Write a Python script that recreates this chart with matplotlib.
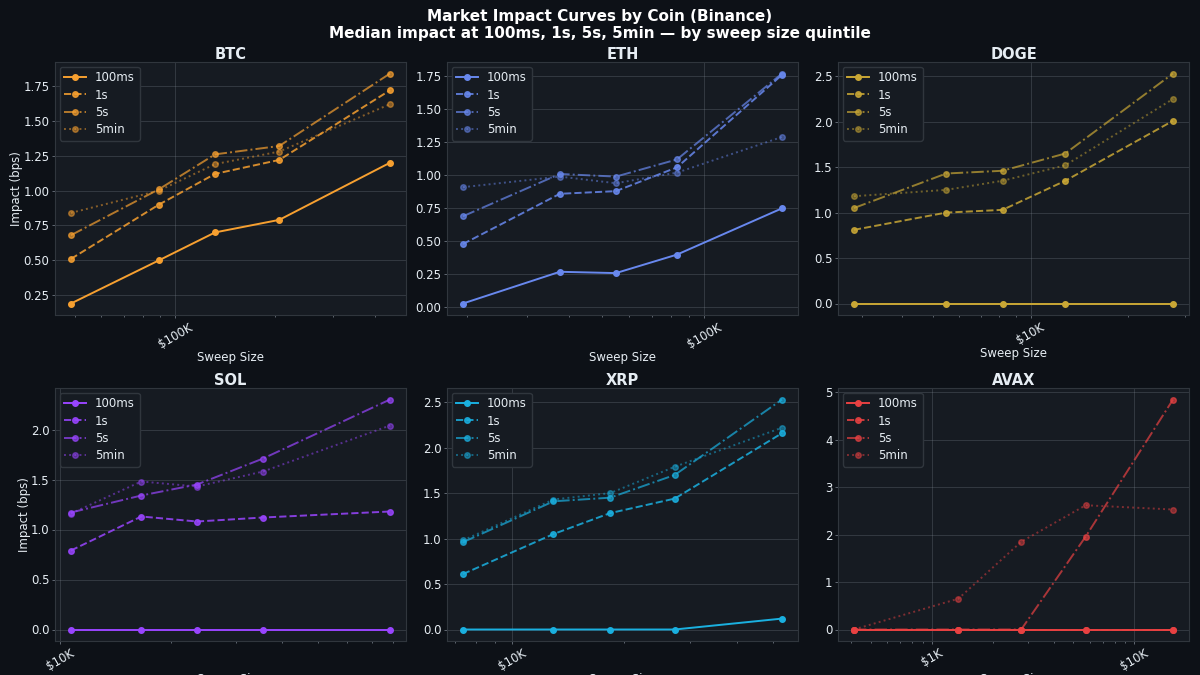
import numpy as np
import matplotlib.pyplot as plt
from matplotlib.ticker import FuncFormatter, LogLocator, NullFormatter

# sweep size quintile midpoints (USD) per coin
coins = ['BTC', 'ETH', 'DOGE', 'SOL', 'XRP', 'AVAX']
colors = ['#f7a030', '#6888ee', '#c9a735', '#9945ff', '#1ab0e0', '#e84142']
horizons = ['100ms', '1s', '5s', '5min']

sizes = {
    'BTC':  [48600, 89500, 132000, 206000, 444000],
    'ETH':  [19400, 37500, 54900, 83200, 170000],
    'DOGE': [2840, 5480, 8190, 12800, 27600],
    'SOL':  [10700, 16600, 23500, 35500, 78400],
    'XRP':  [7370, 12900, 18300, 27300, 53000],
    'AVAX': [413, 1353, 2762, 5745, 15500],
}

# median impact in bps: rows = 100ms, 1s, 5s, 5min
impact = {
    'BTC': [[0.19, 0.50, 0.70, 0.79, 1.20],
            [0.51, 0.90, 1.12, 1.22, 1.72],
            [0.68, 1.01, 1.26, 1.32, 1.84],
            [0.84, 1.00, 1.19, 1.28, 1.62]],
    'ETH': [[0.03, 0.27, 0.26, 0.40, 0.75],
            [0.48, 0.86, 0.88, 1.06, 1.76],
            [0.69, 1.01, 0.99, 1.12, 1.77],
            [0.91, 0.99, 0.94, 1.02, 1.29]],
    'DOGE': [[0.0, 0.0, 0.0, 0.0, 0.0],
             [0.81, 1.00, 1.03, 1.35, 2.01],
             [1.05, 1.43, 1.46, 1.65, 2.53],
             [1.18, 1.25, 1.35, 1.52, 2.25]],
    'SOL': [[0.0, 0.0, 0.0, 0.0, 0.0],
            [0.79, 1.13, 1.08, 1.12, 1.18],
            [1.17, 1.34, 1.45, 1.71, 2.30],
            [1.16, 1.48, 1.43, 1.58, 2.04]],
    'XRP': [[0.0, 0.0, 0.0, 0.0, 0.12],
            [0.61, 1.05, 1.28, 1.44, 2.16],
            [0.96, 1.41, 1.45, 1.70, 2.53],
            [0.98, 1.43, 1.50, 1.79, 2.22]],
    'AVAX': [[0.0, 0.0, 0.0, 0.0, 0.0],
             [0.0, 0.0, 0.0, 0.0, 0.0],
             [0.0, 0.0, 0.0, 1.96, 4.85],
             [0.0, 0.65, 1.85, 2.62, 2.53]],
}

styles = ['-', '--', '-.', ':']
alphas = [1.0, 0.85, 0.7, 0.5]

bg = '#0d1117'
ax_bg = '#161b22'
txt = '#e6edf3'
fs = 8.5

plt.rcParams['font.family'] = 'DejaVu Sans'
fig = plt.figure(figsize=(12, 6.75), dpi=100, facecolor=bg)

lefts = [55, 447, 838]
bottoms = [315, 641]
w, h = 351, 253

def kfmt(x, pos):
    return f'${x/1000:.0f}K'

for i, coin in enumerate(coins):
    r, c = divmod(i, 3)
    ax = fig.add_axes([lefts[c] / 1200, 1 - bottoms[r] / 675, w / 1200, h / 675])
    ax.set_facecolor(ax_bg)
    for j, hz in enumerate(horizons):
        ax.plot(sizes[coin], impact[coin][j], ls=styles[j], marker='o', ms=4,
                lw=1.4, color=colors[i], alpha=alphas[j], label=hz)
    ax.set_xscale('log')
    ax.xaxis.set_major_locator(LogLocator(base=10))
    ax.xaxis.set_major_formatter(FuncFormatter(kfmt))
    ax.xaxis.set_minor_formatter(NullFormatter())
    ax.grid(True, which='major', color='#8b949e', alpha=0.25, lw=0.7)
    for s in ax.spines.values():
        s.set_color('#30363d')
    ax.tick_params(colors=txt, labelsize=fs, which='both', length=2, pad=2,
                   width=0.6)
    ax.tick_params(axis='x', which='minor', length=1.5)
    ax.tick_params(which='both', color='#6e7681')
    plt.setp(ax.get_xticklabels(), rotation=30, ha='center')
    ax.set_title(coin, color=txt, fontsize=10.5, fontweight='bold', pad=2.5)
    ax.set_xlabel('Sweep Size', color=txt, fontsize=fs, labelpad=0)
    if c == 0:
        ax.set_ylabel('Impact (bps)', color=txt, fontsize=fs, labelpad=0)
    ax.legend(loc='upper left', fontsize=fs, facecolor=ax_bg,
              edgecolor='#30363d', labelcolor=txt, framealpha=1.0,
              labelspacing=0.35, handlelength=1.8, borderaxespad=0.4)

fig.text(0.5, 1 - 9 / 675, 'Market Impact Curves by Coin (Binance)\n'
         'Median impact at 100ms, 1s, 5s, 5min \u2014 by sweep size quintile',
         ha='center', va='top', color='white', fontsize=11, fontweight='bold',
         linespacing=1.15)

fig.savefig('out.png', dpi=100, facecolor=bg)
